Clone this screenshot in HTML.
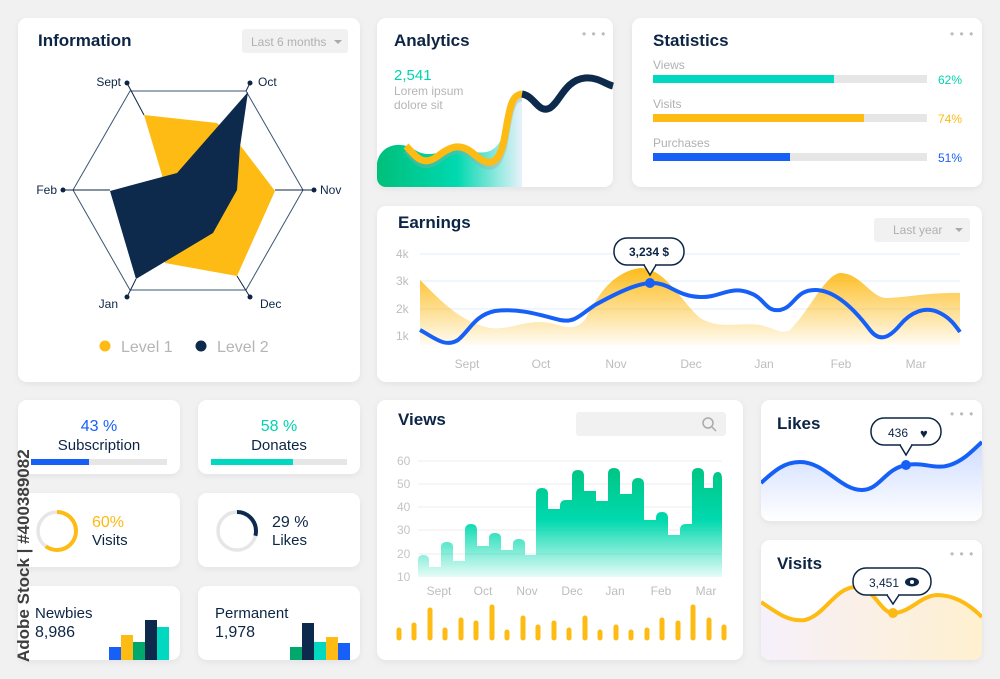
<!DOCTYPE html>
<html><head><meta charset="utf-8"><style>
html,body{margin:0;padding:0;background:#f1f1f2;}
svg{display:block;font-family:"Liberation Sans",sans-serif;}
</style></head><body>
<svg width="1000" height="679" viewBox="0 0 1000 679" xmlns="http://www.w3.org/2000/svg">
<defs>
<filter id="sh" x="-10%" y="-10%" width="120%" height="130%"><feDropShadow dx="0" dy="2" stdDeviation="3" flood-color="#000" flood-opacity="0.06"/></filter>
<linearGradient id="gEarn" x1="0" y1="265" x2="0" y2="345" gradientUnits="userSpaceOnUse"><stop offset="0" stop-color="#fdb913"/><stop offset="1" stop-color="#fdb913" stop-opacity="0.05"/></linearGradient>
<linearGradient id="gViews" x1="0" y1="460" x2="0" y2="580" gradientUnits="userSpaceOnUse"><stop offset="0" stop-color="#00c27e"/><stop offset="0.5" stop-color="#00d9ae"/><stop offset="1" stop-color="#00d9ae" stop-opacity="0.05"/></linearGradient>
<linearGradient id="gAn" x1="377" y1="0" x2="522" y2="0" gradientUnits="userSpaceOnUse"><stop offset="0" stop-color="#00bf7a"/><stop offset="0.55" stop-color="#00d9b0"/><stop offset="1" stop-color="#e8f2fb"/></linearGradient>
<linearGradient id="gLikes" x1="0" y1="440" x2="0" y2="521" gradientUnits="userSpaceOnUse"><stop offset="0" stop-color="#b8ccff"/><stop offset="1" stop-color="#ffffff"/></linearGradient>
<linearGradient id="gVis" x1="761" y1="0" x2="982" y2="0" gradientUnits="userSpaceOnUse"><stop offset="0" stop-color="#f6f0fb"/><stop offset="1" stop-color="#fff0cf"/></linearGradient>
<clipPath id="cLikes"><rect x="761" y="400" width="221" height="121" rx="9"/></clipPath>
<clipPath id="cVis"><rect x="761" y="540" width="221" height="120" rx="9"/></clipPath>
<clipPath id="cAn"><rect x="377" y="18" width="236" height="169" rx="9"/></clipPath>
</defs>

<g fill="#fff" filter="url(#sh)">
<rect x="18" y="18" width="342" height="364" rx="9"/>
<rect x="377" y="18" width="236" height="169" rx="9"/>
<rect x="632" y="18" width="350" height="169" rx="9"/>
<rect x="377" y="206" width="605" height="176" rx="9"/>
<rect x="18" y="400" width="162" height="74" rx="9"/>
<rect x="198" y="400" width="162" height="74" rx="9"/>
<rect x="18" y="493" width="162" height="74" rx="9"/>
<rect x="198" y="493" width="162" height="74" rx="9"/>
<rect x="18" y="586" width="162" height="74" rx="9"/>
<rect x="198" y="586" width="162" height="74" rx="9"/>
<rect x="377" y="400" width="366" height="260" rx="9"/>
<rect x="761" y="400" width="221" height="121" rx="9"/>
<rect x="761" y="540" width="221" height="120" rx="9"/>
</g>

<!-- Information -->
<text x="38" y="46" font-size="17" font-weight="bold" fill="#0d2545">Information</text>
<rect x="242" y="29" width="106" height="24" rx="3" fill="#f1f1f1"/>
<text x="251" y="46" font-size="12" fill="#b0b0b0">Last 6 months</text>
<path d="M334 40 l8 0 l-4 4z" fill="#aaa"/>
<polygon points="130,91 246,91 303,190 246,290 130,290 73,190" fill="none" stroke="#3a5573" stroke-width="1"/>
<g stroke="#0d2545" stroke-width="1">
<line x1="127" y1="83" x2="144" y2="115"/><line x1="250" y1="83" x2="246" y2="91"/>
<line x1="314" y1="190" x2="275" y2="190"/><line x1="250" y1="297" x2="237" y2="276"/>
<line x1="127" y1="297" x2="136" y2="279"/><line x1="63" y1="190" x2="110" y2="190"/>
</g>
<polygon points="144,115 217,123 240,145 275,191 237,276 165,263 162,175" fill="#fdbb13"/>
<polygon points="248,92 240,147 237,190 213,233 136,279 110,191 177,173" fill="#0d2a4d"/>
<g fill="#0d2545"><circle cx="127" cy="83" r="2.5"/><circle cx="250" cy="83" r="2.5"/><circle cx="314" cy="190" r="2.5"/><circle cx="250" cy="297" r="2.5"/><circle cx="127" cy="297" r="2.5"/><circle cx="63" cy="190" r="2.5"/></g>
<g font-size="12" fill="#0d2545">
<text x="121" y="86" text-anchor="end">Sept</text><text x="258" y="86">Oct</text><text x="320" y="194">Nov</text>
<text x="260" y="308">Dec</text><text x="118" y="308" text-anchor="end">Jan</text><text x="57" y="194" text-anchor="end">Feb</text>
</g>
<circle cx="105" cy="346" r="5.5" fill="#fdbb13"/><text x="121" y="352" font-size="16" fill="#b5b5b5">Level 1</text>
<circle cx="201" cy="346" r="5.5" fill="#0d2a4d"/><text x="217" y="352" font-size="16" fill="#b5b5b5">Level 2</text>

<!-- Analytics -->
<text x="394" y="46" font-size="17" font-weight="bold" fill="#0d2545">Analytics</text>
<text x="582" y="38" font-size="12" fill="#bbb" letter-spacing="1">• • •</text>
<text x="394" y="80" font-size="15" fill="#00d3b0">2,541</text>
<text x="394" y="95" font-size="12" fill="#b5b5b5">Lorem ipsum</text>
<text x="394" y="109" font-size="12" fill="#b5b5b5">dolore sit</text>
<g clip-path="url(#cAn)">
<path d="M377 187 L377 163 C380 145 400 140 415 150 C430 160 445 148 460 150 C480 152 495 160 505 130 C510 110 515 97 522 96 L522 187 Z" fill="url(#gAn)"/>
</g>
<path d="M406 146 C415 155 422 168 438 156 C452 145 462 143 475 155 C490 168 500 165 505 135 C510 105 512 95 522 94" fill="none" stroke="#9aa" stroke-opacity="0.35" stroke-width="7" transform="translate(0,4)"/>
<path d="M406 146 C415 155 422 168 438 156 C452 145 462 143 475 155 C490 168 500 165 505 135 C510 105 512 95 522 94" fill="none" stroke="#fdbb13" stroke-width="7"/>
<path d="M522 94 C535 96 538 114 550 108 C560 102 565 80 585 78 C598 77 605 84 613 86" fill="none" stroke="#0d2a4d" stroke-width="7"/>

<!-- Statistics -->
<text x="653" y="46" font-size="17" font-weight="bold" fill="#0d2545">Statistics</text>
<text x="950" y="38" font-size="12" fill="#bbb" letter-spacing="1">• • •</text>
<g font-size="12" fill="#b0b0b0"><text x="653" y="69">Views</text><text x="653" y="108">Visits</text><text x="653" y="147">Purchases</text></g>
<rect x="653" y="75" width="274" height="8" fill="#e6e6e6"/><rect x="653" y="75" width="181" height="8" fill="#00d9bf"/>
<rect x="653" y="114" width="274" height="8" fill="#e6e6e6"/><rect x="653" y="114" width="211" height="8" fill="#fdbb13"/>
<rect x="653" y="153" width="274" height="8" fill="#e6e6e6"/><rect x="653" y="153" width="137" height="8" fill="#1660f7"/>
<g font-size="12"><text x="938" y="84" fill="#00d3b0">62%</text><text x="938" y="123" fill="#fdb913">74%</text><text x="938" y="162" fill="#1660f7">51%</text></g>

<!-- Earnings -->
<text x="398" y="228" font-size="17" font-weight="bold" fill="#0d2545">Earnings</text>
<rect x="874" y="218" width="96" height="24" rx="3" fill="#f1f1f1"/>
<text x="893" y="234" font-size="12" fill="#b0b0b0">Last year</text>
<path d="M955 228 l8 0 l-4 4z" fill="#aaa"/>
<g stroke="#e1eefb" stroke-width="1"><line x1="420" y1="254" x2="960" y2="254"/><line x1="420" y1="281" x2="960" y2="281"/><line x1="420" y1="309" x2="960" y2="309"/></g>
<g font-size="12" fill="#bdbdbd"><text x="396" y="258">4k</text><text x="396" y="285">3k</text><text x="396" y="313">2k</text><text x="396" y="340">1k</text></g>
<path d="M420 280 C440 300 460 322 490 328 C510 330 520 322 540 322 C560 322 570 335 585 320 C600 290 615 272 640 268 C665 268 680 300 700 318 C720 330 740 322 760 325 C775 328 780 335 790 330 C810 310 825 275 840 273 C860 273 870 296 885 298 C905 298 930 292 960 293 L960 345 L420 345 Z" fill="url(#gEarn)"/>
<path d="M420 330 C435 338 445 348 458 340 C470 330 475 315 495 311 C520 308 540 315 560 320 C575 323 580 315 595 305 C615 294 635 284 650 283 C670 282 675 296 700 297 C720 298 730 285 750 293 C765 298 765 312 780 310 C795 307 795 290 815 290 C835 290 855 310 870 330 C880 343 890 337 900 325 C910 313 925 305 940 313 C950 318 955 325 960 332" fill="none" stroke="#1660f7" stroke-width="4"/>
<circle cx="650" cy="283" r="5" fill="#1660f7"/>
<rect x="614" y="238" width="70" height="27" rx="13" fill="#fff" stroke="#0d2545" stroke-width="1.5"/>
<path d="M644 265 L650 275 L656 265" fill="#fff" stroke="#0d2545" stroke-width="1.5"/>
<rect x="645" y="262" width="10" height="3" fill="#fff"/>
<text x="649" y="256" font-size="12" font-weight="bold" fill="#0d2545" text-anchor="middle">3,234 $</text>
<g font-size="12" fill="#bdbdbd" text-anchor="middle"><text x="467" y="368">Sept</text><text x="541" y="368">Oct</text><text x="616" y="368">Nov</text><text x="691" y="368">Dec</text><text x="764" y="368">Jan</text><text x="841" y="368">Feb</text><text x="916" y="368">Mar</text></g>

<!-- small cards -->
<text x="99" y="431" font-size="16" fill="#1660f7" text-anchor="middle">43 %</text>
<text x="99" y="450" font-size="15" fill="#0d2545" text-anchor="middle">Subscription</text>
<rect x="31" y="459" width="136" height="6" fill="#e6e6e6"/><rect x="31" y="459" width="58" height="6" fill="#1660f7"/>
<text x="279" y="431" font-size="16" fill="#00d3b0" text-anchor="middle">58 %</text>
<text x="279" y="450" font-size="15" fill="#0d2545" text-anchor="middle">Donates</text>
<rect x="211" y="459" width="136" height="6" fill="#e6e6e6"/><rect x="211" y="459" width="82" height="6" fill="#00d9bf"/>

<circle cx="57" cy="531" r="19" fill="none" stroke="#e6e6e6" stroke-width="3.5"/>
<circle cx="57" cy="531" r="19" fill="none" stroke="#fdbb13" stroke-width="4" stroke-dasharray="71.6 120" transform="rotate(-90 57 531)"/>
<text x="92" y="527" font-size="16" fill="#fdb913">60%</text>
<text x="92" y="545" font-size="15" fill="#0d2545">Visits</text>
<circle cx="237" cy="531" r="19" fill="none" stroke="#e6e6e6" stroke-width="3.5"/>
<circle cx="237" cy="531" r="19" fill="none" stroke="#0d2a4d" stroke-width="4" stroke-dasharray="34.6 120" transform="rotate(-90 237 531)"/>
<text x="272" y="527" font-size="16" fill="#0d2545">29 %</text>
<text x="272" y="545" font-size="15" fill="#0d2545">Likes</text>

<text x="35" y="618" font-size="15" fill="#0d2545">Newbies</text>
<text x="35" y="637" font-size="16" fill="#0d2545">8,986</text>
<rect x="109" y="647" width="12" height="13" fill="#1660f7"/><rect x="121" y="635" width="12" height="25" fill="#fdbb13"/><rect x="133" y="642" width="12" height="18" fill="#00a86b"/><rect x="145" y="620" width="12" height="40" fill="#0d2a4d"/><rect x="157" y="627" width="12" height="33" fill="#00d9bf"/>
<text x="215" y="618" font-size="15" fill="#0d2545">Permanent</text>
<text x="215" y="637" font-size="16" fill="#0d2545">1,978</text>
<rect x="290" y="647" width="12" height="13" fill="#00a86b"/><rect x="302" y="623" width="12" height="37" fill="#0d2a4d"/><rect x="314" y="642" width="12" height="18" fill="#00d9bf"/><rect x="326" y="637" width="12" height="23" fill="#fdbb13"/><rect x="338" y="643" width="12" height="17" fill="#1660f7"/>

<!-- Views -->
<text x="398" y="425" font-size="17" font-weight="bold" fill="#0d2545">Views</text>
<rect x="576" y="412" width="150" height="24" rx="3" fill="#f1f1f1"/>
<circle cx="708" cy="423" r="5" fill="none" stroke="#aaa" stroke-width="1.5"/><line x1="712" y1="427" x2="716" y2="431" stroke="#aaa" stroke-width="1.5"/>
<g stroke="#ececec" stroke-width="1"><line x1="418" y1="461" x2="722" y2="461"/><line x1="418" y1="484" x2="722" y2="484"/><line x1="418" y1="507" x2="722" y2="507"/><line x1="418" y1="530" x2="722" y2="530"/><line x1="418" y1="554" x2="722" y2="554"/></g>
<g font-size="12" fill="#c4c4c4"><text x="397" y="465">60</text><text x="397" y="488">50</text><text x="397" y="511">40</text><text x="397" y="534">30</text><text x="397" y="558">20</text><text x="397" y="581">10</text></g>
<path fill="url(#gViews)" d="M418 577 L418 560 Q418 555 423 555 Q429 555 429 560 L429 567 L441 567 L441 547 Q441 542 447 542 Q453 542 453 547 L453 561 L465 561 L465 530 Q465 524 471 524 Q477 524 477 530 L477 546 L489 546 L489 538 Q489 533 495 533 Q501 533 501 538 L501 550 L513 550 L513 544 Q513 539 519 539 Q525 539 525 544 L525 555 L536 555 L536 494 Q536 488 542 488 Q548 488 548 494 L548 509 L560 509 L560 506 Q560 500 566 500 L572 500 L572 476 Q572 470 578 470 Q584 470 584 476 L584 491 L596 491 L596 501 L608 501 L608 474 Q608 468 614 468 Q620 468 620 474 L620 494 L632 494 L632 484 Q632 478 638 478 Q644 478 644 484 L644 520 L656 520 L656 518 Q656 512 662 512 Q668 512 668 518 L668 535 L680 535 L680 530 Q680 524 686 524 L692 524 L692 474 Q692 468 698 468 Q704 468 704 474 L704 488 L713 488 L713 479 Q713 472 718 472 Q722 472 722 479 L722 577 Z"/>
<g font-size="12" fill="#bdbdbd" text-anchor="middle"><text x="439" y="595">Sept</text><text x="483" y="595">Oct</text><text x="527" y="595">Nov</text><text x="572" y="595">Dec</text><text x="615" y="595">Jan</text><text x="661" y="595">Feb</text><text x="706" y="595">Mar</text></g>
<g stroke="#fdbb13" stroke-width="5" stroke-linecap="round">
<line x1="399" y1="638" x2="399" y2="630"/><line x1="414" y1="638" x2="414" y2="625"/><line x1="430" y1="638" x2="430" y2="610"/><line x1="445" y1="638" x2="445" y2="630"/><line x1="461" y1="638" x2="461" y2="620"/><line x1="476" y1="638" x2="476" y2="623"/><line x1="492" y1="638" x2="492" y2="607"/><line x1="507" y1="638" x2="507" y2="632"/><line x1="523" y1="638" x2="523" y2="618"/><line x1="538" y1="638" x2="538" y2="627"/><line x1="554" y1="638" x2="554" y2="623"/><line x1="569" y1="638" x2="569" y2="630"/><line x1="585" y1="638" x2="585" y2="618"/><line x1="600" y1="638" x2="600" y2="632"/><line x1="616" y1="638" x2="616" y2="627"/><line x1="631" y1="638" x2="631" y2="632"/><line x1="647" y1="638" x2="647" y2="630"/><line x1="662" y1="638" x2="662" y2="620"/><line x1="678" y1="638" x2="678" y2="623"/><line x1="693" y1="638" x2="693" y2="607"/><line x1="709" y1="638" x2="709" y2="620"/><line x1="724" y1="638" x2="724" y2="627"/>
</g>

<!-- Likes card -->
<text x="777" y="429" font-size="17" font-weight="bold" fill="#0d2545">Likes</text>
<text x="950" y="418" font-size="12" fill="#bbb" letter-spacing="1">• • •</text>
<g clip-path="url(#cLikes)">
<path d="M761 483 C775 470 785 462 800 462 C825 462 840 490 862 490 C880 490 885 468 907 465 C925 462 935 470 950 465 C965 460 975 448 982 442 L982 521 L761 521 Z" fill="url(#gLikes)" opacity="0.7"/>
<path d="M761 483 C775 470 785 462 800 462 C825 462 840 490 862 490 C880 490 885 468 907 465 C925 462 935 470 950 465 C965 460 975 448 982 442" fill="none" stroke="#1660f7" stroke-width="4"/>
</g>
<circle cx="906" cy="465" r="5" fill="#1660f7"/>
<rect x="871" y="418" width="70" height="27" rx="13" fill="#fff" stroke="#0d2545" stroke-width="1.5"/>
<path d="M900 445 L906 455 L912 445" fill="#fff" stroke="#0d2545" stroke-width="1.5"/><rect x="901" y="442" width="10" height="3" fill="#fff"/>
<text x="898" y="437" font-size="12" fill="#0d2545" text-anchor="middle">436</text>
<text x="920" y="438" font-size="13" fill="#0d2545">♥</text>

<!-- Visits card -->
<text x="777" y="569" font-size="17" font-weight="bold" fill="#0d2545">Visits</text>
<text x="950" y="558" font-size="12" fill="#bbb" letter-spacing="1">• • •</text>
<g clip-path="url(#cVis)">
<path d="M761 602 C780 615 790 622 805 620 C825 615 835 588 855 587 C875 587 880 613 893 613 C910 613 920 596 937 595 C955 595 970 605 982 617 L982 660 L761 660 Z" fill="url(#gVis)"/>
<path d="M761 602 C780 615 790 622 805 620 C825 615 835 588 855 587 C875 587 880 613 893 613 C910 613 920 596 937 595 C955 595 970 605 982 617" fill="none" stroke="#fdbb13" stroke-width="4"/>
</g>
<circle cx="893" cy="613" r="5" fill="#fdb913"/>
<rect x="853" y="568" width="78" height="27" rx="13" fill="#fff" stroke="#0d2545" stroke-width="1.5"/>
<path d="M887 595 L893 604 L899 595" fill="#fff" stroke="#0d2545" stroke-width="1.5"/><rect x="888" y="592" width="10" height="3" fill="#fff"/>
<text x="884" y="587" font-size="12" fill="#0d2545" text-anchor="middle">3,451</text>
<ellipse cx="912" cy="582" rx="7" ry="4.5" fill="#0d2545"/><circle cx="912" cy="582" r="2" fill="#fff"/>

<!-- watermark -->
<text x="0" y="0" font-size="17" font-weight="bold" fill="#3f3f3f" transform="translate(29,662) rotate(-90)">Adobe Stock | #400389082</text>
</svg>
</body></html>
